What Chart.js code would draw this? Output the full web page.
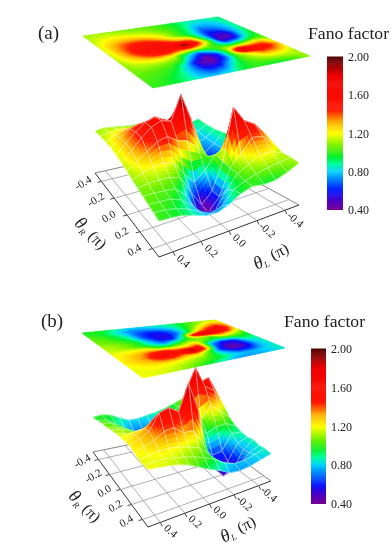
<!DOCTYPE html>
<html>
<head>
<meta charset="utf-8">
<title>Fano factor</title>
<script src="https://cdn.jsdelivr.net/npm/chart.js@4"></script>
<style>
  html, body { margin: 0; padding: 0; background: #fff; }
  canvas { display: block; }
</style>
</head>
<body>
<canvas id="fano" width="392" height="549"></canvas>
<script>
// theta grid, rows are theta_R, columns are theta_L
const thetaGrid = [-0.5, -0.4167, -0.3333, -0.25, -0.1667, -0.0833, 0, 0.0833, 0.1667, 0.25, 0.3333, 0.4167, 0.5];
const thetaTicks = [-0.4, -0.2, 0.0, 0.2, 0.4];
const thetaTickLabels = ["-0.4", "-0.2", "0.0", "0.2", "0.4"];
const fanoTicks = [2.0, 1.6, 1.2, 0.8, 0.4];
const fanoTickLabels = ["2.00", "1.60", "1.20", "0.80", "0.40"];

const fanoA = [
  [0.92, 0.88, 0.85, 0.88, 0.94, 0.99, 1.03, 1.05, 1.06, 1.08, 1.10, 1.12, 1.10],
  [0.90, 0.83, 0.80, 0.83, 0.93, 1.00, 1.05, 1.10, 1.12, 1.15, 1.17, 1.16, 1.13],
  [0.90, 0.80, 0.74, 0.72, 0.90, 1.01, 1.10, 1.18, 1.24, 1.28, 1.27, 1.22, 1.15],
  [0.92, 0.78, 0.66, 0.62, 0.85, 1.00, 1.15, 1.30, 1.42, 1.44, 1.40, 1.30, 1.17],
  [0.96, 0.78, 0.50, 0.54, 0.88, 1.32, 1.36, 1.52, 1.62, 1.57, 1.46, 1.32, 1.16],
  [1.00, 0.85, 0.50, 0.45, 1.05, 1.55, 2.00, 1.60, 1.66, 1.60, 1.47, 1.31, 1.15],
  [1.05, 1.00, 0.85, 0.74, 0.95, 1.15, 1.32, 1.38, 1.50, 1.47, 1.36, 1.24, 1.13],
  [1.15, 1.35, 1.25, 1.15, 1.08, 0.88, 0.72, 0.92, 1.15, 1.22, 1.20, 1.16, 1.10],
  [1.28, 1.50, 1.62, 1.90, 1.05, 0.62, 0.45, 0.72, 1.02, 1.08, 1.10, 1.10, 1.08],
  [1.20, 1.38, 1.42, 1.22, 1.03, 0.62, 0.42, 0.50, 0.82, 1.00, 1.03, 1.05, 1.06],
  [1.12, 1.20, 1.22, 1.12, 1.03, 0.82, 0.55, 0.55, 0.75, 0.92, 1.00, 1.02, 1.04],
  [1.12, 1.10, 1.08, 1.05, 1.00, 0.92, 0.72, 0.66, 0.76, 0.88, 0.95, 1.00, 1.02],
  [1.10, 1.02, 0.96, 0.96, 1.00, 0.95, 0.84, 0.78, 0.80, 0.88, 0.95, 0.98, 1.00]
];

const fanoB = [
  [1.12, 1.12, 1.05, 0.98, 0.92, 0.88, 0.85, 0.82, 0.82, 0.88, 0.95, 0.98, 0.96],
  [1.25, 1.28, 1.12, 1.00, 0.90, 0.82, 0.76, 0.72, 0.72, 0.80, 0.90, 0.98, 1.00],
  [1.30, 1.45, 1.32, 1.08, 0.88, 0.72, 0.62, 0.60, 0.68, 0.85, 0.95, 1.02, 1.05],
  [1.28, 1.62, 1.55, 1.30, 0.92, 0.68, 0.55, 0.55, 0.68, 0.90, 1.00, 1.05, 1.07],
  [1.15, 1.45, 1.55, 1.90, 1.55, 0.85, 0.55, 0.60, 0.78, 0.98, 1.05, 1.10, 1.12],
  [1.00, 1.15, 1.30, 1.05, 1.10, 1.00, 0.85, 0.72, 0.85, 0.98, 1.08, 1.12, 1.15],
  [0.92, 1.00, 0.98, 0.92, 1.05, 1.20, 1.08, 0.98, 1.02, 1.22, 1.22, 1.20, 1.18],
  [0.88, 0.90, 0.65, 0.62, 0.80, 1.45, 1.30, 1.35, 1.50, 1.45, 1.32, 1.26, 1.20],
  [0.86, 0.80, 0.55, 0.46, 0.70, 1.50, 1.97, 1.55, 1.65, 1.60, 1.36, 1.28, 1.22],
  [0.88, 0.76, 0.50, 0.44, 0.62, 1.02, 1.30, 1.30, 1.42, 1.40, 1.30, 1.24, 1.20],
  [0.85, 0.78, 0.62, 0.60, 0.78, 0.95, 1.10, 1.15, 1.20, 1.22, 1.22, 1.20, 1.18],
  [0.86, 0.82, 0.78, 0.78, 0.84, 0.95, 1.02, 1.08, 1.12, 1.16, 1.18, 1.18, 1.18],
  [0.84, 0.80, 0.76, 0.74, 0.76, 0.85, 0.92, 1.00, 1.08, 1.13, 1.16, 1.18, 1.20]
];

// colour bar stops
const colorValues = [0.40, 0.50, 0.60, 0.70, 0.80, 0.88, 0.95, 1.05, 1.20, 1.32, 1.45, 1.80, 1.90, 2.00];
const colorStops = [
  [122, 0, 144], [74, 0, 200], [0, 16, 255], [0, 112, 255], [0, 208, 255], [0, 255, 160], [0, 240, 48],
  [96, 240, 0], [255, 255, 0], [255, 176, 0], [255, 21, 0], [240, 0, 0], [160, 0, 0], [80, 0, 0]
];

// where each panel sits on the page (in chart units)
const panels = [
  {
    fano: fanoA, tag: "(a)", tagAt: [38, 39],
    map: { T: [218, 17], L: [83, 36], R: [310, 56], B: [153, 88] },
    floor: { T: [198, 150], L: [95, 173], R: [299, 205], B: [159, 257] },
    kFar: 60, kNear: 60,
    bar: { x0: 327, x1: 343, y0: 57, y1: 210, labelX: 348, labelDy: 1 },
    title: [308, 39],
    tickR: [-18, 2], tickL: [10, 10],
    nameR: [93, 237], nameL: [275, 255]
  },
  {
    fano: fanoB, tag: "(b)", tagAt: [41, 327],
    map: { T: [215, 320], L: [82, 333], R: [285, 348], B: [143, 378] },
    floor: { T: [200, 430], L: [93, 452], R: [271, 481], B: [148, 527] },
    kFar: 52, kNear: 72,
    bar: { x0: 311, x1: 326, y0: 349, y1: 504, labelX: 331, labelDy: 1 },
    title: [284, 327],
    tickR: [-16, 2], tickL: [10, 9],
    nameR: [87, 510], nameL: [242, 528]
  }
];

function bilinear(q, th, tr) {
  const a = th + 0.5, b = tr + 0.5;
  return {
    x: q.T[0] * (1 - a) * (1 - b) + q.L[0] * a * (1 - b) + q.R[0] * (1 - a) * b + q.B[0] * a * b,
    y: q.T[1] * (1 - a) * (1 - b) + q.L[1] * a * (1 - b) + q.R[1] * (1 - a) * b + q.B[1] * a * b
  };
}

function fanoColor(f) {
  let k = 0;
  while (k < colorValues.length - 2 && f > colorValues[k + 1]) k++;
  const t = Math.max(0, Math.min(1, (f - colorValues[k]) / (colorValues[k + 1] - colorValues[k])));
  const c = colorStops[k].map((v, n) => Math.round(v + (colorStops[k + 1][n] - v) * t));
  return "rgb(" + c.join(",") + ")";
}

function meshPoints(panel, raised) {
  const pts = [];
  thetaGrid.forEach((tr, j) => {
    thetaGrid.forEach((tl, i) => {
      const f = panel.fano[j][i];
      let p;
      if (raised) {
        p = bilinear(panel.floor, tl, tr);
        const k = panel.kFar + (panel.kNear - panel.kFar) * (tl + tr + 1) / 2;
        p.y -= k * (f - 0.4);
      } else {
        p = bilinear(panel.map, tl, tr);
      }
      pts.push({ x: p.x, y: p.y, fano: f });
    });
  });
  return pts;
}

function lineSet(points, color, width) {
  return { data: points, showLine: true, borderColor: color, borderWidth: width, pointRadius: 0, fill: false };
}

// floor of each 3d box, through the library as plain lines
const datasets = [];
panels.forEach((panel) => {
  const f = panel.floor;
  thetaTicks.forEach((t) => {
    datasets.push(lineSet([bilinear(f, t, -0.5), bilinear(f, t, 0.5)], "#9a9aa0", 0.8));
    datasets.push(lineSet([bilinear(f, -0.5, t), bilinear(f, 0.5, t)], "#9a9aa0", 0.8));
  });
  datasets.push(lineSet([bilinear(f, -0.5, -0.5), bilinear(f, 0.5, -0.5)], "#777", 0.9));
  datasets.push(lineSet([bilinear(f, -0.5, -0.5), bilinear(f, -0.5, 0.5)], "#777", 0.9));
  datasets.push(lineSet([bilinear(f, 0.5, -0.5), bilinear(f, 0.5, 0.5), bilinear(f, -0.5, 0.5)], "#333", 1));
  // tick marks on the two front edges
  thetaTicks.forEach((t) => {
    const p = bilinear(f, 0.5, t), q = bilinear(f, t, 0.5);
    datasets.push(lineSet([p, { x: p.x - 4, y: p.y + 1 }], "#333", 0.9));
    datasets.push(lineSet([q, { x: q.x + 2, y: q.y + 4 }], "#333", 0.9));
  });
});

// mesh vertices: the plugin reads the pixel positions the scales gave them
const meshIndex = [];
panels.forEach((panel) => {
  [false, true].forEach((raised) => {
    meshIndex.push({ index: datasets.length, wire: raised });
    datasets.push({ data: meshPoints(panel, raised), pointRadius: 0, showLine: false });
  });
});

const n = thetaGrid.length;

function drawMesh(chart, ctx, item) {
  const els = chart.getDatasetMeta(item.index).data;
  const raw = chart.data.datasets[item.index].data;
  const steps = item.wire ? 4 : 6;
  const at = (i, j) => els[j * n + i];
  const fa = (i, j) => raw[j * n + i].fano;
  // far corner first, near corner last
  for (let j = 0; j < n - 1; j++) {
    for (let i = 0; i < n - 1; i++) {
      const p00 = at(i, j), p10 = at(i + 1, j), p01 = at(i, j + 1), p11 = at(i + 1, j + 1);
      const mix = (u, v) => ({
        x: p00.x * (1 - u) * (1 - v) + p10.x * u * (1 - v) + p01.x * (1 - u) * v + p11.x * u * v,
        y: p00.y * (1 - u) * (1 - v) + p10.y * u * (1 - v) + p01.y * (1 - u) * v + p11.y * u * v
      });
      for (let s = 0; s < steps; s++) {
        for (let r = 0; r < steps; r++) {
          const u = r / steps, v = s / steps, d = 1 / steps;
          const c = fa(i, j) * (1 - u - d / 2) * (1 - v - d / 2) + fa(i + 1, j) * (u + d / 2) * (1 - v - d / 2) +
            fa(i, j + 1) * (1 - u - d / 2) * (v + d / 2) + fa(i + 1, j + 1) * (u + d / 2) * (v + d / 2);
          const a = mix(u, v), b = mix(u + d, v), e = mix(u + d, v + d), g = mix(u, v + d);
          ctx.beginPath();
          ctx.moveTo(a.x, a.y);
          ctx.lineTo(b.x, b.y);
          ctx.lineTo(e.x, e.y);
          ctx.lineTo(g.x, g.y);
          ctx.closePath();
          ctx.fillStyle = ctx.strokeStyle = fanoColor(c);
          ctx.lineWidth = 0.6;
          ctx.fill();
          ctx.stroke();
        }
      }
      if (item.wire) {
        ctx.beginPath();
        ctx.moveTo(p00.x, p00.y);
        ctx.lineTo(p10.x, p10.y);
        ctx.lineTo(p11.x, p11.y);
        ctx.lineTo(p01.x, p01.y);
        ctx.closePath();
        ctx.strokeStyle = "rgba(255,255,255,0.6)";
        ctx.lineWidth = 0.7;
        ctx.stroke();
      }
    }
  }
}

function rotatedText(ctx, text, x, y, deg) {
  ctx.save();
  ctx.translate(x, y);
  ctx.rotate(deg * Math.PI / 180);
  ctx.fillText(text, 0, 0);
  ctx.restore();
}

// theta with a small subscript, then (pi), rotated about its centre
function axisName(ctx, sub, x, y, deg) {
  ctx.save();
  ctx.translate(x, y);
  ctx.rotate(deg * Math.PI / 180);
  ctx.textAlign = "left";
  ctx.textBaseline = "middle";
  ctx.font = "italic 18px 'Liberation Serif'";
  ctx.fillText("θ", -23, 0);
  ctx.font = "italic 9px 'Liberation Serif'";
  ctx.fillText(sub, -14, 5);
  ctx.font = "16px 'Liberation Serif'";
  ctx.fillText("(π)", -4, 0);
  ctx.restore();
}

const fanoPlugin = {
  id: "fanoPlugin",
  afterDatasetsDraw(chart) {
    const ctx = chart.ctx, sx = chart.scales.x, sy = chart.scales.y;
    meshIndex.forEach((item) => drawMesh(chart, ctx, item));

    ctx.save();
    ctx.fillStyle = "#222";
    panels.forEach((panel) => {
      ctx.textAlign = "left";
      ctx.textBaseline = "alphabetic";
      ctx.font = "19px 'Liberation Serif'";
      ctx.fillText(panel.tag, sx.getPixelForValue(panel.tagAt[0]), sy.getPixelForValue(panel.tagAt[1]));
      ctx.font = "17.7px 'Liberation Serif'";
      ctx.fillText("Fano factor", sx.getPixelForValue(panel.title[0]), sy.getPixelForValue(panel.title[1]));

      // colour bar
      const bar = panel.bar;
      const toY = (f) => bar.y1 + (bar.y0 - bar.y1) * (f - 0.4) / 1.6;
      for (let f = 0.4; f < 2.0; f += 0.01) {
        ctx.fillStyle = fanoColor(f + 0.005);
        ctx.fillRect(bar.x0, toY(f + 0.01) - 0.5, bar.x1 - bar.x0, toY(f) - toY(f + 0.01) + 0.5);
      }
      ctx.fillStyle = "#222";
      ctx.font = "12px 'Liberation Serif'";
      ctx.textBaseline = "middle";
      fanoTicks.forEach((f, k) => {
        ctx.fillText(fanoTickLabels[k], bar.labelX, toY(f) + bar.labelDy);
      });

      // tick labels on the floor edges
      ctx.textAlign = "center";
      ctx.font = "11px 'Liberation Serif'";
      thetaTicks.forEach((t, k) => {
        const p = bilinear(panel.floor, 0.5, t);
        rotatedText(ctx, thetaTickLabels[k], p.x + panel.tickR[0], p.y + panel.tickR[1], -30);
        const q = bilinear(panel.floor, t, 0.5);
        rotatedText(ctx, thetaTickLabels[k], q.x + panel.tickL[0], q.y + panel.tickL[1], 42);
      });
      axisName(ctx, "R", panel.nameR[0], panel.nameR[1], 45);
      axisName(ctx, "L", panel.nameL[0], panel.nameL[1], -28);
    });
    ctx.restore();
  }
};

new Chart(document.getElementById("fano"), {
  type: "scatter",
  data: { datasets: datasets },
  plugins: [fanoPlugin],
  options: {
    responsive: false,
    animation: false,
    layout: { padding: 0 },
    scales: {
      x: { type: "linear", min: 0, max: 392, display: false },
      y: { type: "linear", min: 0, max: 549, reverse: true, display: false }
    },
    plugins: { legend: { display: false }, tooltip: { enabled: false } }
  }
});
</script>
</body>
</html>
